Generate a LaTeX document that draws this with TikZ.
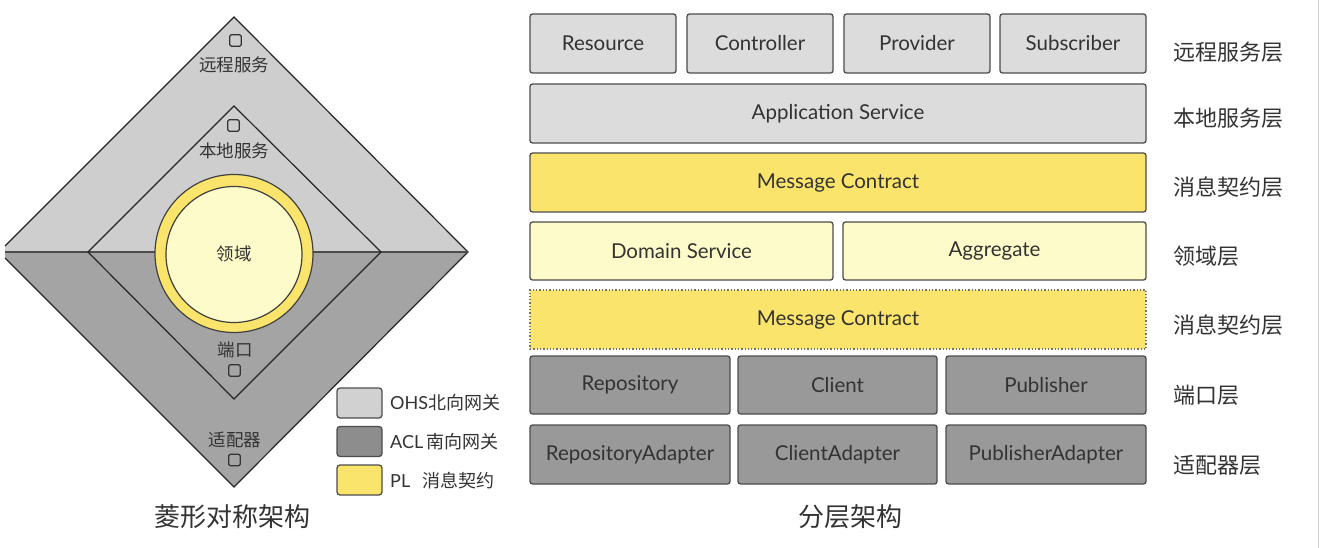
\documentclass[tikz,border=0pt]{standalone}
\usepackage{fontspec}
\newfontfamily\lato{Lato}
\newfontfamily\cjk{Noto Sans CJK SC}
\definecolor{boxline}{HTML}{4D4D4D}
\definecolor{txt}{HTML}{333333}
\definecolor{lgray}{HTML}{DCDCDC}
\definecolor{dgray}{HTML}{999999}
\definecolor{myyellow}{HTML}{FBE46C}
\definecolor{lyellow}{HTML}{FDFBC9}
\definecolor{dupper}{HTML}{CECECE}
\definecolor{dlower}{HTML}{A4A4A4}
\definecolor{frame}{HTML}{D0D0D0}
\tikzset{
  layerbox/.style={draw=boxline, line width=1.3pt, rounded corners=2.5pt, inner sep=0pt,
    text=txt, font=\lato\fontsize{20.5}{24}\selectfont, minimum height=59pt},
  graybox/.style={layerbox, fill=lgray},
  darkbox/.style={layerbox, fill=dgray},
  yelbox/.style={layerbox, fill=myyellow},
  lyelbox/.style={layerbox, fill=lyellow},
  dotbox/.style={layerbox, draw=boxline!80, dotted, line width=1.8pt, fill=myyellow, rounded corners=0pt},
  layerlabel/.style={anchor=west, inner sep=0pt, text=txt, font=\cjk\fontsize{22}{24}\selectfont},
  dlabel/.style={inner sep=0pt, text=txt, font=\cjk\fontsize{17.5}{20}\selectfont},
  sq/.style={draw=txt, line width=1.1pt, rounded corners=1.5pt, minimum size=11.5pt, inner sep=0pt},
  legbox/.style={draw=boxline, line width=1.3pt, rounded corners=3pt, minimum width=45pt, minimum height=30pt, inner sep=0pt},
  legtext/.style={anchor=west, inner sep=0pt, text=txt, font=\cjk\fontsize{18}{20}\selectfont},
  title/.style={inner sep=0pt, text=txt, font=\cjk\fontsize{26}{30}\selectfont},
  edge/.style={draw=black!85, line width=1.2pt, line join=miter}
}
\begin{document}
\begin{tikzpicture}[x=1pt,y=-1pt]
\useasboundingbox (0,0) rectangle (1320,548);
\fill[white] (0,0) rectangle (1320,548);
\draw[frame, line width=1pt] (1318,0) -- (1318,548);

% ---------- diamond ----------
\coordinate (T) at (234,17);
\coordinate (R) at (468,252);
\coordinate (B) at (234,487);
\coordinate (Lt) at (5,246);
\coordinate (Lm) at (5,252);
\coordinate (Lb) at (5,258);
\fill[dupper] (T) -- (R) -- (Lm) -- (Lt) -- cycle;
\fill[dlower] (Lm) -- (R) -- (B) -- (Lb) -- cycle;
\draw[edge] (Lt) -- (T) -- (R) -- (B) -- (Lb);
\draw[black!70, line width=2.2pt] (Lm) -- (R);

\coordinate (iT) at (234,106);
\coordinate (iR) at (381,252);
\coordinate (iB) at (234,399);
\coordinate (iL) at (88,252);
\draw[edge] (iT) -- (iR) -- (iB) -- (iL) -- cycle;

% circle
\node[circle, draw=black!75, line width=1.2pt, fill=myyellow, minimum size=158pt, inner sep=0pt] (ring) at (234,253.5) {};
\node[circle, draw=black!75, line width=1.2pt, fill=lyellow, minimum size=136pt, inner sep=0pt] (core) at (234,254.5) {};
\node[dlabel] (domain) at (234,254) {领域};

\node[sq] (s1) at (235.5,40.5) {};
\node[dlabel] (remote) at (234,64.5) {远程服务};
\node[sq] (s2) at (233.5,125.5) {};
\node[dlabel] (local) at (234,151) {本地服务};
\node[dlabel] (port) at (235,350) {端口};
\node[sq] (s3) at (234.5,370.5) {};
\node[dlabel] (adapter) at (235,439.5) {适配器};
\node[sq] (s4) at (234.5,460) {};

% legend
\node[legbox, fill=lgray!95!black] (lg1) at (359.5,403) {};
\node[legbox, fill=dgray!92!black] (lg2) at (359.5,441.5) {};
\node[legbox, fill=myyellow] (lg3) at (359.5,480) {};
\node[legtext] (lt1) at (390,403) {{\lato OHS}北向网关};
\node[legtext] (lt2) at (390,442) {{\lato ACL\,}南向网关};
\node[legtext] (lt3) at (390,481) {{\lato PL}\hspace{12pt}消息契约};

\node[title] (t1) at (232,517) {菱形对称架构};

% ---------- layered ----------
\node[graybox, minimum width=146pt] (res) at (603,43.5) {Resource};
\node[graybox, minimum width=146pt] (ctl) at (760,43.5) {Controller};
\node[graybox, minimum width=146pt] (prov) at (917,43.5) {Provider};
\node[graybox, minimum width=146pt] (sub) at (1073,43.5) {Subscriber};

\node[graybox, minimum width=616pt] (app) at (838,113.5) {Application Service};
\node[yelbox, minimum width=616pt] (mc1) at (838,182.5) {Message Contract};
\node[lyelbox, minimum width=303pt, minimum height=58pt] (ds) at (681.5,251) {Domain Service};
\node[lyelbox, minimum width=303pt, minimum height=58pt] (agg) at (994.5,251) {Aggregate};
\node[dotbox, minimum width=616pt] (mc2) at (838,319.5) {Message Contract};

\node[darkbox, minimum width=200pt, minimum height=58pt] (repo) at (630,385) {Repository};
\node[darkbox, minimum width=199pt, minimum height=58pt] (cli) at (837.5,385) {Client};
\node[darkbox, minimum width=200pt, minimum height=58pt] (pub) at (1046,385) {Publisher};

\node[darkbox, minimum width=200pt] (repoa) at (630,454.5) {RepositoryAdapter};
\node[darkbox, minimum width=199pt] (clia) at (837.5,454.5) {ClientAdapter};
\node[darkbox, minimum width=200pt] (puba) at (1046,454.5) {PublisherAdapter};

\node[layerlabel] (l1) at (1173,52) {远程服务层};
\node[layerlabel] (l2) at (1173,118.5) {本地服务层};
\node[layerlabel] (l3) at (1173,187) {消息契约层};
\node[layerlabel] (l4) at (1173,256.5) {领域层};
\node[layerlabel] (l5) at (1173,325) {消息契约层};
\node[layerlabel] (l6) at (1173,395) {端口层};
\node[layerlabel] (l7) at (1173,465) {适配器层};

\node[title] (t2) at (850.5,516.5) {分层架构};
\end{tikzpicture}
\end{document}
